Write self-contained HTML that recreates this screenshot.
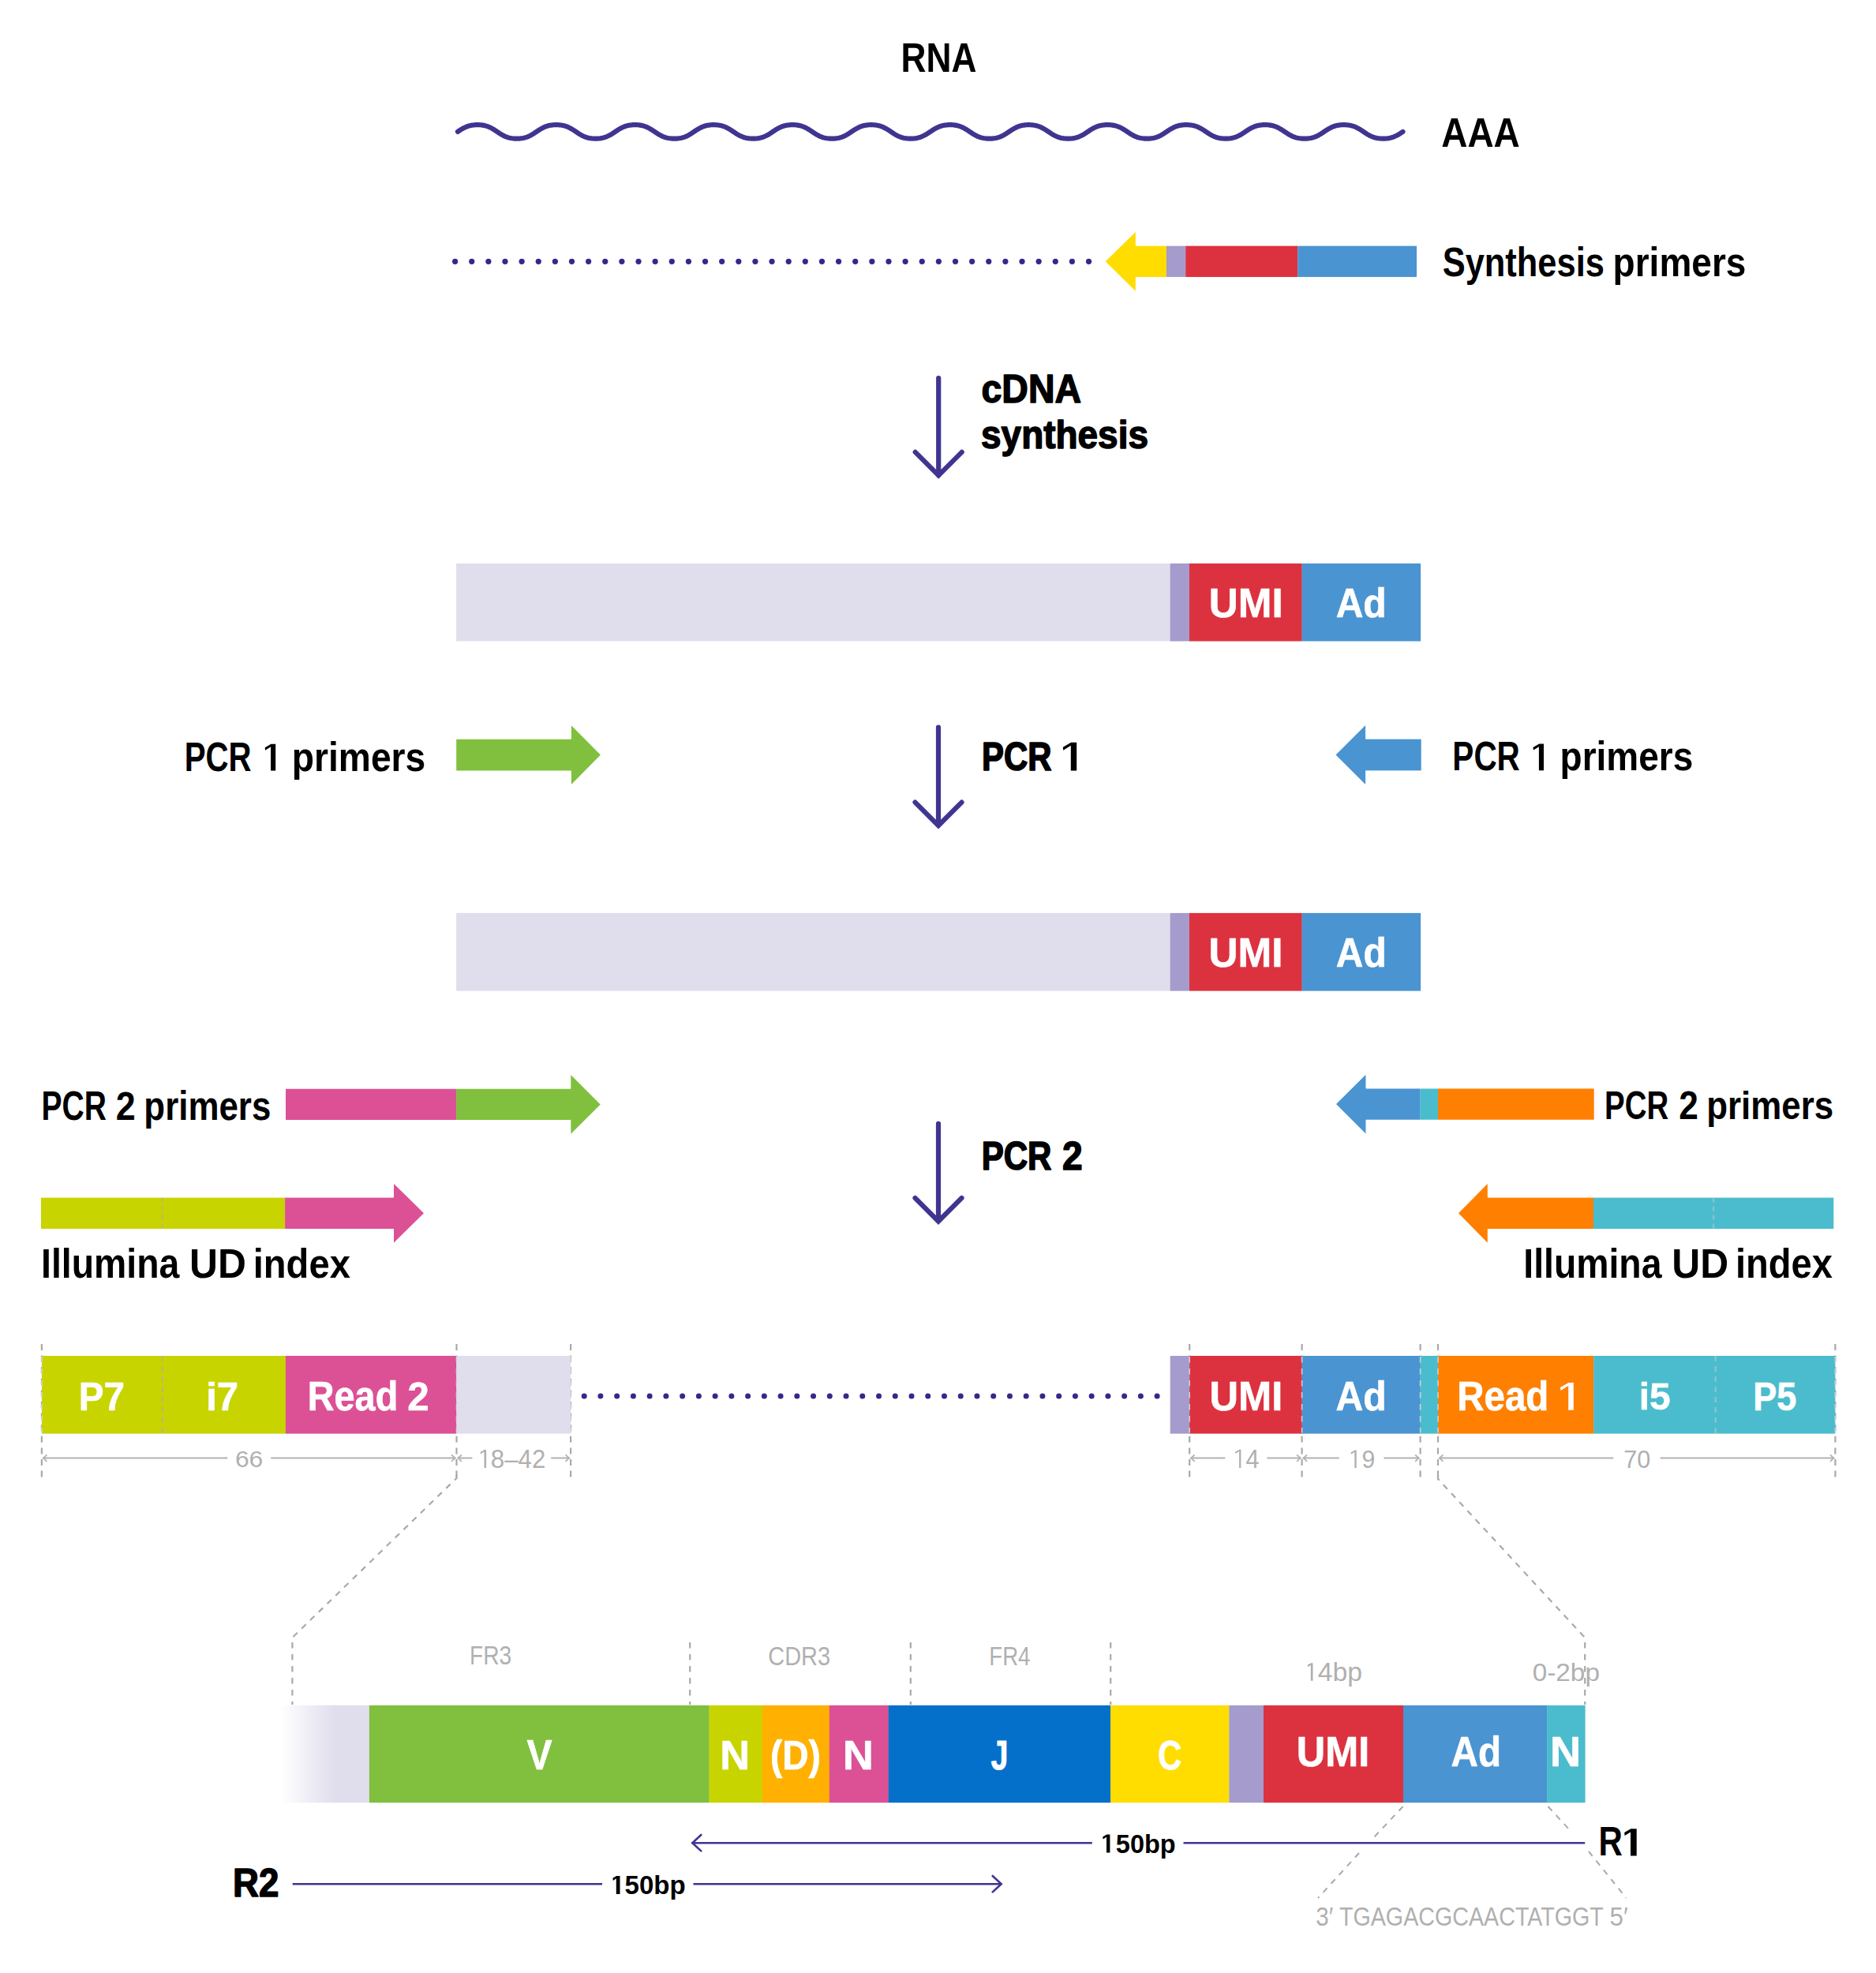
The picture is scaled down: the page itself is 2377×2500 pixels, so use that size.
<!DOCTYPE html>
<html><head><meta charset="utf-8"><title>TCR/BCR library structure</title>
<style>html,body{margin:0;padding:0;background:#fff}svg{display:block}text{font-family:"Liberation Sans",sans-serif;font-size:100px}</style>
</head><body>
<svg width="2377" height="2500" viewBox="0 0 2377 2500">
<rect width="2377" height="2500" fill="#ffffff"/>
<polyline points="580.0,166.90 581.5,165.90 583.0,164.92 584.5,163.98 586.0,163.08 587.5,162.25 589.0,161.50 590.5,160.82 592.0,160.23 593.5,159.72 595.0,159.30 596.5,158.95 598.0,158.67 599.5,158.46 601.0,158.31 602.5,158.21 604.0,158.16 605.5,158.15 607.0,158.19 608.5,158.28 610.0,158.42 611.5,158.61 613.0,158.87 614.5,159.20 616.0,159.61 617.5,160.09 619.0,160.67 620.5,161.32 622.0,162.06 623.5,162.87 625.0,163.75 626.5,164.68 628.0,165.65 629.5,166.65 631.0,167.65 632.5,168.64 634.0,169.59 635.5,170.50 637.0,171.35 638.5,172.12 640.0,172.82 641.5,173.43 643.0,173.96 644.5,174.40 646.0,174.77 647.5,175.06 649.0,175.29 650.5,175.46 652.0,175.57 653.5,175.63 655.0,175.65 656.5,175.62 658.0,175.55 659.5,175.42 661.0,175.24 662.5,175.00 664.0,174.69 665.5,174.30 667.0,173.84 668.5,173.29 670.0,172.65 671.5,171.93 673.0,171.14 674.5,170.28 676.0,169.36 677.5,168.39 679.0,167.40 680.5,166.40 682.0,165.41 683.5,164.44 685.0,163.52 686.5,162.66 688.0,161.87 689.5,161.15 691.0,160.51 692.5,159.96 694.0,159.50 695.5,159.11 697.0,158.80 698.5,158.56 700.1,158.38 701.6,158.25 703.1,158.18 704.6,158.15 706.1,158.17 707.6,158.23 709.1,158.34 710.6,158.51 712.1,158.74 713.6,159.03 715.1,159.40 716.6,159.84 718.1,160.37 719.6,160.98 721.1,161.68 722.6,162.45 724.1,163.30 725.6,164.21 727.1,165.16 728.6,166.15 730.1,167.15 731.6,168.15 733.1,169.12 734.6,170.05 736.1,170.93 737.6,171.74 739.1,172.48 740.6,173.13 742.1,173.71 743.6,174.19 745.1,174.60 746.6,174.93 748.1,175.19 749.6,175.38 751.1,175.52 752.6,175.61 754.1,175.65 755.6,175.64 757.1,175.59 758.6,175.49 760.1,175.34 761.6,175.13 763.1,174.85 764.6,174.50 766.1,174.08 767.6,173.57 769.1,172.98 770.6,172.30 772.1,171.55 773.6,170.72 775.1,169.82 776.6,168.88 778.1,167.90 779.6,166.90 781.1,165.90 782.6,164.92 784.1,163.98 785.6,163.08 787.1,162.25 788.6,161.50 790.1,160.82 791.6,160.23 793.1,159.72 794.6,159.30 796.1,158.95 797.6,158.67 799.1,158.46 800.6,158.31 802.1,158.21 803.6,158.16 805.1,158.15 806.6,158.19 808.1,158.28 809.6,158.42 811.1,158.61 812.6,158.87 814.1,159.20 815.6,159.61 817.1,160.09 818.6,160.67 820.1,161.32 821.6,162.06 823.1,162.87 824.6,163.75 826.1,164.68 827.6,165.65 829.1,166.65 830.6,167.65 832.1,168.64 833.6,169.59 835.1,170.50 836.6,171.35 838.1,172.12 839.6,172.82 841.1,173.43 842.6,173.96 844.1,174.40 845.6,174.77 847.1,175.06 848.6,175.29 850.1,175.46 851.6,175.57 853.1,175.63 854.6,175.65 856.1,175.62 857.6,175.55 859.1,175.42 860.6,175.24 862.1,175.00 863.6,174.69 865.1,174.30 866.6,173.84 868.1,173.29 869.6,172.65 871.1,171.93 872.6,171.14 874.1,170.28 875.6,169.36 877.1,168.39 878.6,167.40 880.1,166.40 881.6,165.41 883.1,164.44 884.6,163.52 886.1,162.66 887.6,161.87 889.1,161.15 890.6,160.51 892.1,159.96 893.6,159.50 895.1,159.11 896.6,158.80 898.1,158.56 899.6,158.38 901.1,158.25 902.6,158.18 904.1,158.15 905.6,158.17 907.1,158.23 908.6,158.34 910.1,158.51 911.6,158.74 913.1,159.03 914.6,159.40 916.1,159.84 917.6,160.37 919.1,160.98 920.6,161.68 922.1,162.45 923.6,163.30 925.1,164.21 926.6,165.16 928.1,166.15 929.6,167.15 931.1,168.15 932.6,169.12 934.1,170.05 935.6,170.93 937.1,171.74 938.6,172.48 940.2,173.13 941.7,173.71 943.2,174.19 944.7,174.60 946.2,174.93 947.7,175.19 949.2,175.38 950.7,175.52 952.2,175.61 953.7,175.65 955.2,175.64 956.7,175.59 958.2,175.49 959.7,175.34 961.2,175.13 962.7,174.85 964.2,174.50 965.7,174.08 967.2,173.57 968.7,172.98 970.2,172.30 971.7,171.55 973.2,170.72 974.7,169.82 976.2,168.88 977.7,167.90 979.2,166.90 980.7,165.90 982.2,164.92 983.7,163.98 985.2,163.08 986.7,162.25 988.2,161.50 989.7,160.82 991.2,160.23 992.7,159.72 994.2,159.30 995.7,158.95 997.2,158.67 998.7,158.46 1000.2,158.31 1001.7,158.21 1003.2,158.16 1004.7,158.15 1006.2,158.19 1007.7,158.28 1009.2,158.42 1010.7,158.61 1012.2,158.87 1013.7,159.20 1015.2,159.61 1016.7,160.09 1018.2,160.67 1019.7,161.32 1021.2,162.06 1022.7,162.87 1024.2,163.75 1025.7,164.68 1027.2,165.65 1028.7,166.65 1030.2,167.65 1031.7,168.64 1033.2,169.59 1034.7,170.50 1036.2,171.35 1037.7,172.12 1039.2,172.82 1040.7,173.43 1042.2,173.96 1043.7,174.40 1045.2,174.77 1046.7,175.06 1048.2,175.29 1049.7,175.46 1051.2,175.57 1052.7,175.63 1054.2,175.65 1055.7,175.62 1057.2,175.55 1058.7,175.42 1060.2,175.24 1061.7,175.00 1063.2,174.69 1064.7,174.30 1066.2,173.84 1067.7,173.29 1069.2,172.65 1070.7,171.93 1072.2,171.14 1073.7,170.28 1075.2,169.36 1076.7,168.39 1078.2,167.40 1079.7,166.40 1081.2,165.41 1082.7,164.44 1084.2,163.52 1085.7,162.66 1087.2,161.87 1088.7,161.15 1090.2,160.51 1091.7,159.96 1093.2,159.50 1094.7,159.11 1096.2,158.80 1097.7,158.56 1099.2,158.38 1100.7,158.25 1102.2,158.18 1103.7,158.15 1105.2,158.17 1106.7,158.23 1108.2,158.34 1109.7,158.51 1111.2,158.74 1112.7,159.03 1114.2,159.40 1115.7,159.84 1117.2,160.37 1118.7,160.98 1120.2,161.68 1121.7,162.45 1123.2,163.30 1124.7,164.21 1126.2,165.16 1127.7,166.15 1129.2,167.15 1130.7,168.15 1132.2,169.12 1133.7,170.05 1135.2,170.93 1136.7,171.74 1138.2,172.48 1139.7,173.13 1141.2,173.71 1142.7,174.19 1144.2,174.60 1145.7,174.93 1147.2,175.19 1148.7,175.38 1150.2,175.52 1151.7,175.61 1153.2,175.65 1154.7,175.64 1156.2,175.59 1157.7,175.49 1159.2,175.34 1160.7,175.13 1162.2,174.85 1163.7,174.50 1165.2,174.08 1166.7,173.57 1168.2,172.98 1169.7,172.30 1171.2,171.55 1172.7,170.72 1174.2,169.82 1175.7,168.88 1177.2,167.90 1178.8,166.90 1180.3,165.90 1181.8,164.92 1183.3,163.98 1184.8,163.08 1186.3,162.25 1187.8,161.50 1189.3,160.82 1190.8,160.23 1192.3,159.72 1193.8,159.30 1195.3,158.95 1196.8,158.67 1198.3,158.46 1199.8,158.31 1201.3,158.21 1202.8,158.16 1204.3,158.15 1205.8,158.19 1207.3,158.28 1208.8,158.42 1210.3,158.61 1211.8,158.87 1213.3,159.20 1214.8,159.61 1216.3,160.09 1217.8,160.67 1219.3,161.32 1220.8,162.06 1222.3,162.87 1223.8,163.75 1225.3,164.68 1226.8,165.65 1228.3,166.65 1229.8,167.65 1231.3,168.64 1232.8,169.59 1234.3,170.50 1235.8,171.35 1237.3,172.12 1238.8,172.82 1240.3,173.43 1241.8,173.96 1243.3,174.40 1244.8,174.77 1246.3,175.06 1247.8,175.29 1249.3,175.46 1250.8,175.57 1252.3,175.63 1253.8,175.65 1255.3,175.62 1256.8,175.55 1258.3,175.42 1259.8,175.24 1261.3,175.00 1262.8,174.69 1264.3,174.30 1265.8,173.84 1267.3,173.29 1268.8,172.65 1270.3,171.93 1271.8,171.14 1273.3,170.28 1274.8,169.36 1276.3,168.39 1277.8,167.40 1279.3,166.40 1280.8,165.41 1282.3,164.44 1283.8,163.52 1285.3,162.66 1286.8,161.87 1288.3,161.15 1289.8,160.51 1291.3,159.96 1292.8,159.50 1294.3,159.11 1295.8,158.80 1297.3,158.56 1298.8,158.38 1300.3,158.25 1301.8,158.18 1303.3,158.15 1304.8,158.17 1306.3,158.23 1307.8,158.34 1309.3,158.51 1310.8,158.74 1312.3,159.03 1313.8,159.40 1315.3,159.84 1316.8,160.37 1318.3,160.98 1319.8,161.68 1321.3,162.45 1322.8,163.30 1324.3,164.21 1325.8,165.16 1327.3,166.15 1328.8,167.15 1330.3,168.15 1331.8,169.12 1333.3,170.05 1334.8,170.93 1336.3,171.74 1337.8,172.48 1339.3,173.13 1340.8,173.71 1342.3,174.19 1343.8,174.60 1345.3,174.93 1346.8,175.19 1348.3,175.38 1349.8,175.52 1351.3,175.61 1352.8,175.65 1354.3,175.64 1355.8,175.59 1357.3,175.49 1358.8,175.34 1360.3,175.13 1361.8,174.85 1363.3,174.50 1364.8,174.08 1366.3,173.57 1367.8,172.98 1369.3,172.30 1370.8,171.55 1372.3,170.72 1373.8,169.82 1375.3,168.88 1376.8,167.90 1378.3,166.90 1379.8,165.90 1381.3,164.92 1382.8,163.98 1384.3,163.08 1385.8,162.25 1387.3,161.50 1388.8,160.82 1390.3,160.23 1391.8,159.72 1393.3,159.30 1394.8,158.95 1396.3,158.67 1397.8,158.46 1399.3,158.31 1400.8,158.21 1402.3,158.16 1403.8,158.15 1405.3,158.19 1406.8,158.28 1408.3,158.42 1409.8,158.61 1411.3,158.87 1412.8,159.20 1414.3,159.61 1415.8,160.09 1417.3,160.67 1418.9,161.32 1420.4,162.06 1421.9,162.87 1423.4,163.75 1424.9,164.68 1426.4,165.65 1427.9,166.65 1429.4,167.65 1430.9,168.64 1432.4,169.59 1433.9,170.50 1435.4,171.35 1436.9,172.12 1438.4,172.82 1439.9,173.43 1441.4,173.96 1442.9,174.40 1444.4,174.77 1445.9,175.06 1447.4,175.29 1448.9,175.46 1450.4,175.57 1451.9,175.63 1453.4,175.65 1454.9,175.62 1456.4,175.55 1457.9,175.42 1459.4,175.24 1460.9,175.00 1462.4,174.69 1463.9,174.30 1465.4,173.84 1466.9,173.29 1468.4,172.65 1469.9,171.93 1471.4,171.14 1472.9,170.28 1474.4,169.36 1475.9,168.39 1477.4,167.40 1478.9,166.40 1480.4,165.41 1481.9,164.44 1483.4,163.52 1484.9,162.66 1486.4,161.87 1487.9,161.15 1489.4,160.51 1490.9,159.96 1492.4,159.50 1493.9,159.11 1495.4,158.80 1496.9,158.56 1498.4,158.38 1499.9,158.25 1501.4,158.18 1502.9,158.15 1504.4,158.17 1505.9,158.23 1507.4,158.34 1508.9,158.51 1510.4,158.74 1511.9,159.03 1513.4,159.40 1514.9,159.84 1516.4,160.37 1517.9,160.98 1519.4,161.68 1520.9,162.45 1522.4,163.30 1523.9,164.21 1525.4,165.16 1526.9,166.15 1528.4,167.15 1529.9,168.15 1531.4,169.12 1532.9,170.05 1534.4,170.93 1535.9,171.74 1537.4,172.48 1538.9,173.13 1540.4,173.71 1541.9,174.19 1543.4,174.60 1544.9,174.93 1546.4,175.19 1547.9,175.38 1549.4,175.52 1550.9,175.61 1552.4,175.65 1553.9,175.64 1555.4,175.59 1556.9,175.49 1558.4,175.34 1559.9,175.13 1561.4,174.85 1562.9,174.50 1564.4,174.08 1565.9,173.57 1567.4,172.98 1568.9,172.30 1570.4,171.55 1571.9,170.72 1573.4,169.82 1574.9,168.88 1576.4,167.90 1577.9,166.90 1579.4,165.90 1580.9,164.92 1582.4,163.98 1583.9,163.08 1585.4,162.25 1586.9,161.50 1588.4,160.82 1589.9,160.23 1591.4,159.72 1592.9,159.30 1594.4,158.95 1595.9,158.67 1597.4,158.46 1598.9,158.31 1600.4,158.21 1601.9,158.16 1603.4,158.15 1604.9,158.19 1606.4,158.28 1607.9,158.42 1609.4,158.61 1610.9,158.87 1612.4,159.20 1613.9,159.61 1615.4,160.09 1616.9,160.67 1618.4,161.32 1619.9,162.06 1621.4,162.87 1622.9,163.75 1624.4,164.68 1625.9,165.65 1627.4,166.65 1628.9,167.65 1630.4,168.64 1631.9,169.59 1633.4,170.50 1634.9,171.35 1636.4,172.12 1637.9,172.82 1639.4,173.43 1640.9,173.96 1642.4,174.40 1643.9,174.77 1645.4,175.06 1646.9,175.29 1648.4,175.46 1649.9,175.57 1651.4,175.63 1652.9,175.65 1654.4,175.62 1655.9,175.55 1657.4,175.42 1659.0,175.24 1660.5,175.00 1662.0,174.69 1663.5,174.30 1665.0,173.84 1666.5,173.29 1668.0,172.65 1669.5,171.93 1671.0,171.14 1672.5,170.28 1674.0,169.36 1675.5,168.39 1677.0,167.40 1678.5,166.40 1680.0,165.41 1681.5,164.44 1683.0,163.52 1684.5,162.66 1686.0,161.87 1687.5,161.15 1689.0,160.51 1690.5,159.96 1692.0,159.50 1693.5,159.11 1695.0,158.80 1696.5,158.56 1698.0,158.38 1699.5,158.25 1701.0,158.18 1702.5,158.15 1704.0,158.17 1705.5,158.23 1707.0,158.34 1708.5,158.51 1710.0,158.74 1711.5,159.03 1713.0,159.40 1714.5,159.84 1716.0,160.37 1717.5,160.98 1719.0,161.68 1720.5,162.45 1722.0,163.30 1723.5,164.21 1725.0,165.16 1726.5,166.15 1728.0,167.15 1729.5,168.15 1731.0,169.12 1732.5,170.05 1734.0,170.93 1735.5,171.74 1737.0,172.48 1738.5,173.13 1740.0,173.71 1741.5,174.19 1743.0,174.60 1744.5,174.93 1746.0,175.19 1747.5,175.38 1749.0,175.52 1750.5,175.61 1752.0,175.65 1753.5,175.64 1755.0,175.59 1756.5,175.49 1758.0,175.34 1759.5,175.13 1761.0,174.85 1762.5,174.50 1764.0,174.08 1765.5,173.57 1767.0,172.98 1768.5,172.30 1770.0,171.55 1771.5,170.72 1773.0,169.82 1774.5,168.88 1776.0,167.90 1777.5,166.90" fill="none" stroke="#3f3590" stroke-width="6.2" stroke-linecap="round" stroke-linejoin="round"/>
<circle cx="576.60" cy="331.3" r="3.6" fill="#33298a"/>
<circle cx="597.73" cy="331.3" r="3.6" fill="#33298a"/>
<circle cx="618.86" cy="331.3" r="3.6" fill="#33298a"/>
<circle cx="639.99" cy="331.3" r="3.6" fill="#33298a"/>
<circle cx="661.12" cy="331.3" r="3.6" fill="#33298a"/>
<circle cx="682.25" cy="331.3" r="3.6" fill="#33298a"/>
<circle cx="703.38" cy="331.3" r="3.6" fill="#33298a"/>
<circle cx="724.51" cy="331.3" r="3.6" fill="#33298a"/>
<circle cx="745.64" cy="331.3" r="3.6" fill="#33298a"/>
<circle cx="766.77" cy="331.3" r="3.6" fill="#33298a"/>
<circle cx="787.90" cy="331.3" r="3.6" fill="#33298a"/>
<circle cx="809.03" cy="331.3" r="3.6" fill="#33298a"/>
<circle cx="830.16" cy="331.3" r="3.6" fill="#33298a"/>
<circle cx="851.29" cy="331.3" r="3.6" fill="#33298a"/>
<circle cx="872.42" cy="331.3" r="3.6" fill="#33298a"/>
<circle cx="893.55" cy="331.3" r="3.6" fill="#33298a"/>
<circle cx="914.68" cy="331.3" r="3.6" fill="#33298a"/>
<circle cx="935.81" cy="331.3" r="3.6" fill="#33298a"/>
<circle cx="956.94" cy="331.3" r="3.6" fill="#33298a"/>
<circle cx="978.07" cy="331.3" r="3.6" fill="#33298a"/>
<circle cx="999.20" cy="331.3" r="3.6" fill="#33298a"/>
<circle cx="1020.33" cy="331.3" r="3.6" fill="#33298a"/>
<circle cx="1041.46" cy="331.3" r="3.6" fill="#33298a"/>
<circle cx="1062.59" cy="331.3" r="3.6" fill="#33298a"/>
<circle cx="1083.72" cy="331.3" r="3.6" fill="#33298a"/>
<circle cx="1104.85" cy="331.3" r="3.6" fill="#33298a"/>
<circle cx="1125.98" cy="331.3" r="3.6" fill="#33298a"/>
<circle cx="1147.11" cy="331.3" r="3.6" fill="#33298a"/>
<circle cx="1168.24" cy="331.3" r="3.6" fill="#33298a"/>
<circle cx="1189.37" cy="331.3" r="3.6" fill="#33298a"/>
<circle cx="1210.50" cy="331.3" r="3.6" fill="#33298a"/>
<circle cx="1231.63" cy="331.3" r="3.6" fill="#33298a"/>
<circle cx="1252.76" cy="331.3" r="3.6" fill="#33298a"/>
<circle cx="1273.89" cy="331.3" r="3.6" fill="#33298a"/>
<circle cx="1295.02" cy="331.3" r="3.6" fill="#33298a"/>
<circle cx="1316.15" cy="331.3" r="3.6" fill="#33298a"/>
<circle cx="1337.28" cy="331.3" r="3.6" fill="#33298a"/>
<circle cx="1358.41" cy="331.3" r="3.6" fill="#33298a"/>
<circle cx="1379.54" cy="331.3" r="3.6" fill="#33298a"/>
<polygon points="1400.70,331.30 1438.80,293.90 1438.80,311.65 1439.40,311.65 1439.40,350.95 1438.80,350.95 1438.80,368.70" fill="#ffdd00"/>
<rect x="1438.50" y="311.65" width="39.50" height="39.30" fill="#ffdd00"/>
<rect x="1477.90" y="311.65" width="24.30" height="39.30" fill="#a59bcc"/>
<rect x="1502.20" y="311.65" width="142.00" height="39.30" fill="#dc3240"/>
<rect x="1644.20" y="311.65" width="150.80" height="39.30" fill="#4a94d2"/>
<path d="M1189.20,479.10 L1189.20,602.40 M1159.70,572.90 L1189.20,602.40 L1218.70,572.90" fill="none" stroke="#3f3590" stroke-width="6.2" stroke-linecap="round" stroke-linejoin="miter"/>
<path d="M1189.00,921.70 L1189.00,1046.10 M1159.50,1016.60 L1189.00,1046.10 L1218.50,1016.60" fill="none" stroke="#3f3590" stroke-width="6.2" stroke-linecap="round" stroke-linejoin="miter"/>
<path d="M1189.00,1423.90 L1189.00,1547.50 M1159.50,1518.00 L1189.00,1547.50 L1218.50,1518.00" fill="none" stroke="#3f3590" stroke-width="6.2" stroke-linecap="round" stroke-linejoin="miter"/>
<rect x="578.10" y="714.00" width="904.70" height="98.50" fill="#e0deed"/>
<rect x="1482.60" y="714.00" width="24.60" height="98.50" fill="#a59bcc"/>
<rect x="1507.00" y="714.00" width="142.80" height="98.50" fill="#dc3240"/>
<rect x="1649.60" y="714.00" width="150.50" height="98.50" fill="#4a94d2"/>
<rect x="578.10" y="1156.90" width="904.70" height="98.70" fill="#e0deed"/>
<rect x="1482.60" y="1156.90" width="24.60" height="98.70" fill="#a59bcc"/>
<rect x="1507.00" y="1156.90" width="142.80" height="98.70" fill="#dc3240"/>
<rect x="1649.60" y="1156.90" width="150.50" height="98.70" fill="#4a94d2"/>
<rect x="578.20" y="936.75" width="146.00" height="39.70" fill="#80c03e"/>
<polygon points="760.90,956.60 723.90,919.15 723.90,936.75 723.30,936.75 723.30,976.45 723.90,976.45 723.90,994.05" fill="#80c03e"/>
<polygon points="1692.50,956.50 1730.10,919.05 1730.10,936.65 1730.70,936.65 1730.70,976.35 1730.10,976.35 1730.10,993.95" fill="#4a94d2"/>
<rect x="1729.80" y="936.65" width="70.90" height="39.70" fill="#4a94d2"/>
<rect x="362.00" y="1379.75" width="216.30" height="39.30" fill="#dc5096"/>
<rect x="578.10" y="1379.75" width="145.50" height="39.30" fill="#80c03e"/>
<polygon points="760.70,1399.40 723.30,1362.00 723.30,1379.75 722.70,1379.75 722.70,1419.05 723.30,1419.05 723.30,1436.80" fill="#80c03e"/>
<polygon points="1693.00,1399.10 1730.50,1361.70 1730.50,1379.45 1731.10,1379.45 1731.10,1418.75 1730.50,1418.75 1730.50,1436.50" fill="#4a94d2"/>
<rect x="1730.20" y="1379.45" width="69.40" height="39.30" fill="#4a94d2"/>
<rect x="1799.40" y="1379.45" width="22.80" height="39.30" fill="#4bbccd"/>
<rect x="1822.00" y="1379.45" width="197.70" height="39.30" fill="#ff7f00"/>
<rect x="52.00" y="1517.60" width="309.30" height="39.40" fill="#c8d400"/>
<rect x="361.10" y="1517.60" width="138.20" height="39.40" fill="#dc5096"/>
<polygon points="537.00,1537.30 499.00,1499.90 499.00,1517.60 498.40,1517.60 498.40,1557.00 499.00,1557.00 499.00,1574.70" fill="#dc5096"/>
<polygon points="1848.00,1537.30 1884.80,1499.90 1884.80,1517.60 1885.40,1517.60 1885.40,1557.00 1884.80,1557.00 1884.80,1574.70" fill="#ff7f00"/>
<rect x="1884.50" y="1517.60" width="134.60" height="39.40" fill="#ff7f00"/>
<rect x="2018.90" y="1517.60" width="304.40" height="39.40" fill="#4bbccd"/>
<line x1="205.8" y1="1517.6" x2="205.8" y2="1557.0" stroke="#b8b48a" stroke-width="2" stroke-dasharray="6 5" opacity="0.8"/>
<line x1="2171.1" y1="1517.6" x2="2171.1" y2="1557.0" stroke="#9fc6cc" stroke-width="2" stroke-dasharray="6 5" opacity="0.8"/>
<line x1="52.9" y1="1700" x2="52.9" y2="1872" stroke="#a9a9ad" stroke-width="2.2" stroke-dasharray="8 6.6" stroke-dashoffset="-3"/>
<line x1="578.5" y1="1700" x2="578.5" y2="1872" stroke="#a9a9ad" stroke-width="2.2" stroke-dasharray="8 6.6" stroke-dashoffset="-3"/>
<line x1="723.1" y1="1700" x2="723.1" y2="1872" stroke="#a9a9ad" stroke-width="2.2" stroke-dasharray="8 6.6" stroke-dashoffset="-3"/>
<line x1="1507.2" y1="1700" x2="1507.2" y2="1872" stroke="#a9a9ad" stroke-width="2.2" stroke-dasharray="8 6.6" stroke-dashoffset="-3"/>
<line x1="1649.6" y1="1700" x2="1649.6" y2="1872" stroke="#a9a9ad" stroke-width="2.2" stroke-dasharray="8 6.6" stroke-dashoffset="-3"/>
<line x1="1799.6" y1="1700" x2="1799.6" y2="1872" stroke="#a9a9ad" stroke-width="2.2" stroke-dasharray="8 6.6" stroke-dashoffset="-3"/>
<line x1="1822.0" y1="1700" x2="1822.0" y2="1872" stroke="#a9a9ad" stroke-width="2.2" stroke-dasharray="8 6.6" stroke-dashoffset="-3"/>
<line x1="2325.4" y1="1700" x2="2325.4" y2="1872" stroke="#a9a9ad" stroke-width="2.2" stroke-dasharray="8 6.6" stroke-dashoffset="-3"/>
<rect x="52.90" y="1718.00" width="309.20" height="98.60" fill="#c8d400"/>
<rect x="361.90" y="1718.00" width="216.60" height="98.60" fill="#dc5096"/>
<rect x="578.30" y="1718.00" width="144.80" height="98.60" fill="#e0deed"/>
<circle cx="740.20" cy="1768.9" r="3.5" fill="#33298a"/>
<circle cx="760.94" cy="1768.9" r="3.5" fill="#33298a"/>
<circle cx="781.68" cy="1768.9" r="3.5" fill="#33298a"/>
<circle cx="802.42" cy="1768.9" r="3.5" fill="#33298a"/>
<circle cx="823.16" cy="1768.9" r="3.5" fill="#33298a"/>
<circle cx="843.90" cy="1768.9" r="3.5" fill="#33298a"/>
<circle cx="864.64" cy="1768.9" r="3.5" fill="#33298a"/>
<circle cx="885.38" cy="1768.9" r="3.5" fill="#33298a"/>
<circle cx="906.12" cy="1768.9" r="3.5" fill="#33298a"/>
<circle cx="926.86" cy="1768.9" r="3.5" fill="#33298a"/>
<circle cx="947.60" cy="1768.9" r="3.5" fill="#33298a"/>
<circle cx="968.34" cy="1768.9" r="3.5" fill="#33298a"/>
<circle cx="989.08" cy="1768.9" r="3.5" fill="#33298a"/>
<circle cx="1009.82" cy="1768.9" r="3.5" fill="#33298a"/>
<circle cx="1030.56" cy="1768.9" r="3.5" fill="#33298a"/>
<circle cx="1051.30" cy="1768.9" r="3.5" fill="#33298a"/>
<circle cx="1072.04" cy="1768.9" r="3.5" fill="#33298a"/>
<circle cx="1092.78" cy="1768.9" r="3.5" fill="#33298a"/>
<circle cx="1113.52" cy="1768.9" r="3.5" fill="#33298a"/>
<circle cx="1134.26" cy="1768.9" r="3.5" fill="#33298a"/>
<circle cx="1155.00" cy="1768.9" r="3.5" fill="#33298a"/>
<circle cx="1175.74" cy="1768.9" r="3.5" fill="#33298a"/>
<circle cx="1196.48" cy="1768.9" r="3.5" fill="#33298a"/>
<circle cx="1217.22" cy="1768.9" r="3.5" fill="#33298a"/>
<circle cx="1237.96" cy="1768.9" r="3.5" fill="#33298a"/>
<circle cx="1258.70" cy="1768.9" r="3.5" fill="#33298a"/>
<circle cx="1279.44" cy="1768.9" r="3.5" fill="#33298a"/>
<circle cx="1300.18" cy="1768.9" r="3.5" fill="#33298a"/>
<circle cx="1320.92" cy="1768.9" r="3.5" fill="#33298a"/>
<circle cx="1341.66" cy="1768.9" r="3.5" fill="#33298a"/>
<circle cx="1362.40" cy="1768.9" r="3.5" fill="#33298a"/>
<circle cx="1383.14" cy="1768.9" r="3.5" fill="#33298a"/>
<circle cx="1403.88" cy="1768.9" r="3.5" fill="#33298a"/>
<circle cx="1424.62" cy="1768.9" r="3.5" fill="#33298a"/>
<circle cx="1445.36" cy="1768.9" r="3.5" fill="#33298a"/>
<circle cx="1466.10" cy="1768.9" r="3.5" fill="#33298a"/>
<rect x="1482.70" y="1718.00" width="24.70" height="98.60" fill="#a59bcc"/>
<rect x="1507.20" y="1718.00" width="142.60" height="98.60" fill="#dc3240"/>
<rect x="1649.60" y="1718.00" width="150.20" height="98.60" fill="#4a94d2"/>
<rect x="1799.60" y="1718.00" width="22.60" height="98.60" fill="#4bbccd"/>
<rect x="1822.00" y="1718.00" width="197.40" height="98.60" fill="#ff7f00"/>
<rect x="2019.20" y="1718.00" width="306.20" height="98.60" fill="#4bbccd"/>
<line x1="205.9" y1="1718.0" x2="205.9" y2="1816.6" stroke="#b8b48a" stroke-width="2.2" stroke-dasharray="7 6" opacity="0.8"/>
<line x1="2173.7" y1="1718.0" x2="2173.7" y2="1816.6" stroke="#9fc6cc" stroke-width="2.2" stroke-dasharray="7 6" opacity="0.8"/>
<line x1="52.9" y1="1719.0" x2="52.9" y2="1815.6" stroke="#d6d6dc" stroke-width="1.6" stroke-dasharray="7.5 7.5" opacity="0.9"/>
<line x1="578.5" y1="1719.0" x2="578.5" y2="1815.6" stroke="#d6d6dc" stroke-width="1.6" stroke-dasharray="7.5 7.5" opacity="0.9"/>
<line x1="723.1" y1="1719.0" x2="723.1" y2="1815.6" stroke="#d6d6dc" stroke-width="1.6" stroke-dasharray="7.5 7.5" opacity="0.9"/>
<line x1="1507.2" y1="1719.0" x2="1507.2" y2="1815.6" stroke="#d6d6dc" stroke-width="1.6" stroke-dasharray="7.5 7.5" opacity="0.9"/>
<line x1="1649.6" y1="1719.0" x2="1649.6" y2="1815.6" stroke="#d6d6dc" stroke-width="1.6" stroke-dasharray="7.5 7.5" opacity="0.9"/>
<line x1="1799.6" y1="1719.0" x2="1799.6" y2="1815.6" stroke="#d6d6dc" stroke-width="1.6" stroke-dasharray="7.5 7.5" opacity="0.9"/>
<line x1="1822.0" y1="1719.0" x2="1822.0" y2="1815.6" stroke="#d6d6dc" stroke-width="1.6" stroke-dasharray="7.5 7.5" opacity="0.9"/>
<line x1="2325.4" y1="1719.0" x2="2325.4" y2="1815.6" stroke="#d6d6dc" stroke-width="1.6" stroke-dasharray="7.5 7.5" opacity="0.9"/>
<path d="M53.9,1847.6 L288.3,1847.6 M343.2,1847.6 L577.5,1847.6" stroke="#b2b2b2" stroke-width="2" fill="none"/>
<path d="M59.4,1843.3 L54.9,1847.6 L59.4,1851.9 M572.0,1843.3 L576.5,1847.6 L572.0,1851.9" stroke="#b2b2b2" stroke-width="1.8" fill="none"/>
<path d="M579.5,1847.6 L598.4,1847.6 M698.2,1847.6 L722.1,1847.6" stroke="#b2b2b2" stroke-width="2" fill="none"/>
<path d="M585.0,1843.3 L580.5,1847.6 L585.0,1851.9 M716.6,1843.3 L721.1,1847.6 L716.6,1851.9" stroke="#b2b2b2" stroke-width="1.8" fill="none"/>
<path d="M1508.2,1847.6 L1552.4,1847.6 M1605.4,1847.6 L1648.6,1847.6" stroke="#b2b2b2" stroke-width="2" fill="none"/>
<path d="M1513.7,1843.3 L1509.2,1847.6 L1513.7,1851.9 M1643.1,1843.3 L1647.6,1847.6 L1643.1,1851.9" stroke="#b2b2b2" stroke-width="1.8" fill="none"/>
<path d="M1650.6,1847.6 L1696.8,1847.6 M1753.5,1847.6 L1798.6,1847.6" stroke="#b2b2b2" stroke-width="2" fill="none"/>
<path d="M1656.1,1843.3 L1651.6,1847.6 L1656.1,1851.9 M1793.1,1843.3 L1797.6,1847.6 L1793.1,1851.9" stroke="#b2b2b2" stroke-width="1.8" fill="none"/>
<path d="M1823.0,1847.6 L2044.3,1847.6 M2103.7,1847.6 L2324.4,1847.6" stroke="#b2b2b2" stroke-width="2" fill="none"/>
<path d="M1828.5,1843.3 L1824.0,1847.6 L1828.5,1851.9 M2318.9,1843.3 L2323.4,1847.6 L2318.9,1851.9" stroke="#b2b2b2" stroke-width="1.8" fill="none"/>
<path d="M578.5,1869 L578.5,1873 L370.4,2075 L370.4,2160" stroke="#a9a9ad" stroke-width="2.2" fill="none" stroke-dasharray="7.5 7.5"/>
<path d="M1822,1869 L1822,1874 L2008.2,2075 L2008.2,2160" stroke="#a9a9ad" stroke-width="2.2" fill="none" stroke-dasharray="7.5 7.5"/>
<line x1="874.2" y1="2081" x2="874.2" y2="2160" stroke="#a9a9ad" stroke-width="2.2" stroke-dasharray="7.5 7.5"/>
<line x1="1153.8" y1="2081" x2="1153.8" y2="2160" stroke="#a9a9ad" stroke-width="2.2" stroke-dasharray="7.5 7.5"/>
<line x1="1407.2" y1="2081" x2="1407.2" y2="2160" stroke="#a9a9ad" stroke-width="2.2" stroke-dasharray="7.5 7.5"/>
<defs><linearGradient id="fade" x1="0" x2="1" y1="0" y2="0"><stop offset="0" stop-color="#e0deed" stop-opacity="0"/><stop offset="1" stop-color="#e0deed" stop-opacity="1"/></linearGradient></defs>
<rect x="355.00" y="2160.80" width="70.00" height="123.40" fill="url(#fade)"/>
<rect x="424.80" y="2160.80" width="43.30" height="123.40" fill="#e0deed"/>
<rect x="467.90" y="2160.80" width="430.90" height="123.40" fill="#80c03e"/>
<rect x="898.60" y="2160.80" width="67.40" height="123.40" fill="#c8d400"/>
<rect x="965.80" y="2160.80" width="85.20" height="123.40" fill="#ffb000"/>
<rect x="1050.80" y="2160.80" width="75.10" height="123.40" fill="#dc5096"/>
<rect x="1125.70" y="2160.80" width="281.50" height="123.40" fill="#0470c9"/>
<rect x="1407.00" y="2160.80" width="150.50" height="123.40" fill="#ffdd00"/>
<rect x="1557.30" y="2160.80" width="43.90" height="123.40" fill="#a59bcc"/>
<rect x="1601.00" y="2160.80" width="177.20" height="123.40" fill="#dc3240"/>
<rect x="1778.00" y="2160.80" width="182.30" height="123.40" fill="#4a94d2"/>
<rect x="1960.10" y="2160.80" width="48.50" height="123.40" fill="#4bbccd"/>
<path d="M876.5,2335.2 L1383.8,2335.2 M1499.5,2335.2 L2008.2,2335.2" stroke="#3f3590" stroke-width="2.6" fill="none"/>
<path d="M888.3,2325.0 L877.3,2335.2 L888.3,2345.4" stroke="#3f3590" stroke-width="2.6" fill="none" stroke-linecap="round"/>
<path d="M370.7,2387.2 L763,2387.2 M878.5,2387.2 L1269,2387.2" stroke="#3f3590" stroke-width="2.6" fill="none"/>
<path d="M1257.7,2377.0 L1268.7,2387.2 L1257.7,2397.4" stroke="#3f3590" stroke-width="2.6" fill="none" stroke-linecap="round"/>
<path d="M1777.6,2289 L1740,2329 M1722,2348 L1670,2405" stroke="#a9a9ad" stroke-width="2" fill="none" stroke-dasharray="7.5 7.5"/>
<path d="M1961.5,2289 L1990,2320 M2013,2346 L2060.6,2405" stroke="#a9a9ad" stroke-width="2" fill="none" stroke-dasharray="7.5 7.5"/>
<text transform="translate(1141.50 91.30) scale(0.4425 0.5261)" font-weight="bold" fill="#000000">RNA</text>
<text transform="translate(1826.22 186.20) scale(0.4597 0.5261)" font-weight="bold" fill="#000000">AAA</text>
<text transform="translate(1827.70 350.40) scale(0.4344 0.5101)" font-weight="bold" fill="#000000">Synthesis</text>
<text transform="translate(2043.58 350.40) scale(0.4604 0.5101)" font-weight="bold" fill="#000000">primers</text>
<text transform="translate(1243.54 509.90) scale(0.4645 0.4928)" font-weight="bold" fill="#000000" stroke="#000000" stroke-width="3.01" stroke-linejoin="round">cDNA</text>
<text transform="translate(1243.06 567.80) scale(0.4594 0.4928)" font-weight="bold" fill="#000000" stroke="#000000" stroke-width="3.05" stroke-linejoin="round">synthesis</text>
<text transform="translate(1531.72 782.40) scale(0.5129 0.5130)" font-weight="bold" fill="#ffffff" stroke="#ffffff" stroke-width="1.17" stroke-linejoin="round">UMI</text>
<text transform="translate(1692.66 782.40) scale(0.4806 0.5130)" font-weight="bold" fill="#ffffff" stroke="#ffffff" stroke-width="1.25" stroke-linejoin="round">Ad</text>
<text transform="translate(233.68 976.60) scale(0.4025 0.5101)" font-weight="bold" fill="#000000">PCR</text>
<text transform="translate(369.77 976.60) scale(0.4621 0.5101)" font-weight="bold" fill="#000000">primers</text>
<text transform="translate(1244.07 975.60) scale(0.4183 0.4913)" font-weight="bold" fill="#000000" stroke="#000000" stroke-width="3.35" stroke-linejoin="round">PCR</text>
<text transform="translate(1840.37 976.30) scale(0.4050 0.5116)" font-weight="bold" fill="#000000">PCR</text>
<text transform="translate(1976.58 976.30) scale(0.4601 0.5116)" font-weight="bold" fill="#000000">primers</text>
<text transform="translate(1531.52 1224.90) scale(0.5135 0.5130)" font-weight="bold" fill="#ffffff" stroke="#ffffff" stroke-width="1.17" stroke-linejoin="round">UMI</text>
<text transform="translate(1692.86 1224.90) scale(0.4790 0.5130)" font-weight="bold" fill="#ffffff" stroke="#ffffff" stroke-width="1.25" stroke-linejoin="round">Ad</text>
<text transform="translate(52.47 1418.60) scale(0.3906 0.5087)" font-weight="bold" fill="#000000">PCR</text>
<text transform="translate(146.65 1418.60) scale(0.4490 0.5087)" font-weight="bold" fill="#000000">2</text>
<text transform="translate(182.33 1418.60) scale(0.4388 0.5087)" font-weight="bold" fill="#000000">primers</text>
<text transform="translate(2033.11 1418.30) scale(0.3847 0.5087)" font-weight="bold" fill="#000000">PCR</text>
<text transform="translate(2127.27 1418.30) scale(0.4429 0.5087)" font-weight="bold" fill="#000000">2</text>
<text transform="translate(2162.13 1418.30) scale(0.4390 0.5087)" font-weight="bold" fill="#000000">primers</text>
<text transform="translate(1243.66 1481.80) scale(0.4203 0.4971)" font-weight="bold" fill="#000000" stroke="#000000" stroke-width="3.33" stroke-linejoin="round">PCR</text>
<text transform="translate(1345.92 1481.80) scale(0.4612 0.4971)" font-weight="bold" fill="#000000" stroke="#000000" stroke-width="3.04" stroke-linejoin="round">2</text>
<text transform="translate(52.05 1619.00) scale(0.4639 0.5246)" font-weight="bold" fill="#000000">Illumina</text>
<text transform="translate(240.01 1619.00) scale(0.4978 0.5246)" font-weight="bold" fill="#000000">UD</text>
<text transform="translate(320.70 1619.00) scale(0.4719 0.5246)" font-weight="bold" fill="#000000">index</text>
<text transform="translate(1930.25 1618.50) scale(0.4639 0.5246)" font-weight="bold" fill="#000000">Illumina</text>
<text transform="translate(2118.21 1618.50) scale(0.4978 0.5246)" font-weight="bold" fill="#000000">UD</text>
<text transform="translate(2198.90 1618.50) scale(0.4711 0.5246)" font-weight="bold" fill="#000000">index</text>
<text transform="translate(99.76 1786.50) scale(0.4766 0.5014)" font-weight="bold" fill="#ffffff" stroke="#ffffff" stroke-width="1.26" stroke-linejoin="round">P7</text>
<text transform="translate(261.16 1786.50) scale(0.4917 0.5014)" font-weight="bold" fill="#ffffff" stroke="#ffffff" stroke-width="1.22" stroke-linejoin="round">i7</text>
<text transform="translate(389.72 1786.50) scale(0.4684 0.5130)" font-weight="bold" fill="#ffffff" stroke="#ffffff" stroke-width="1.28" stroke-linejoin="round">Read</text>
<text transform="translate(516.32 1786.50) scale(0.4939 0.5014)" font-weight="bold" fill="#ffffff" stroke="#ffffff" stroke-width="1.21" stroke-linejoin="round">2</text>
<text transform="translate(1532.46 1786.70) scale(0.5070 0.5217)" font-weight="bold" fill="#ffffff" stroke="#ffffff" stroke-width="1.18" stroke-linejoin="round">UMI</text>
<text transform="translate(1692.46 1786.50) scale(0.4815 0.5130)" font-weight="bold" fill="#ffffff" stroke="#ffffff" stroke-width="1.25" stroke-linejoin="round">Ad</text>
<text transform="translate(1846.18 1786.50) scale(0.4749 0.5130)" font-weight="bold" fill="#ffffff" stroke="#ffffff" stroke-width="1.26" stroke-linejoin="round">Read</text>
<text transform="translate(2076.65 1786.30) scale(0.4784 0.4899)" font-weight="bold" fill="#ffffff" stroke="#ffffff" stroke-width="1.25" stroke-linejoin="round">i5</text>
<text transform="translate(2221.25 1786.50) scale(0.4496 0.5014)" font-weight="bold" fill="#ffffff" stroke="#ffffff" stroke-width="1.33" stroke-linejoin="round">P5</text>
<text transform="translate(297.91 1858.70) scale(0.3186 0.3014)" font-weight="normal" fill="#b0b0b0">66</text>
<text transform="translate(621.85 1859.90) scale(0.3127 0.3304)" font-weight="normal" fill="#b0b0b0">8–42</text>
<text transform="translate(1578.49 1860.00) scale(0.3059 0.3232)" font-weight="normal" fill="#b0b0b0">4</text>
<text transform="translate(1725.39 1859.80) scale(0.3022 0.3217)" font-weight="normal" fill="#b0b0b0">9</text>
<text transform="translate(2057.17 1859.50) scale(0.3059 0.3188)" font-weight="normal" fill="#b0b0b0">70</text>
<text transform="translate(595.05 2109.30) scale(0.2818 0.3246)" font-weight="normal" fill="#b0b0b0">FR3</text>
<text transform="translate(973.25 2109.60) scale(0.2894 0.3246)" font-weight="normal" fill="#b0b0b0">CDR3</text>
<text transform="translate(1253.29 2109.60) scale(0.2764 0.3246)" font-weight="normal" fill="#b0b0b0">FR4</text>
<text transform="translate(1669.72 2129.80) scale(0.3385 0.3275)" font-weight="normal" fill="#b0b0b0">4bp</text>
<text transform="translate(1941.67 2129.70) scale(0.3335 0.3188)" font-weight="normal" fill="#b0b0b0">0-2bp</text>
<text transform="translate(667.62 2242.40) scale(0.4815 0.5275)" font-weight="bold" fill="#ffffff" stroke="#ffffff" stroke-width="1.25" stroke-linejoin="round">V</text>
<text transform="translate(912.23 2242.00) scale(0.5241 0.5101)" font-weight="bold" fill="#ffffff" stroke="#ffffff" stroke-width="1.14" stroke-linejoin="round">N</text>
<text transform="translate(975.89 2242.00) scale(0.4612 0.5101)" font-weight="bold" fill="#ffffff" stroke="#ffffff" stroke-width="1.30" stroke-linejoin="round">(D)</text>
<text transform="translate(1067.81 2242.00) scale(0.5414 0.5101)" font-weight="bold" fill="#ffffff" stroke="#ffffff" stroke-width="1.11" stroke-linejoin="round">N</text>
<text transform="translate(1255.61 2242.00) scale(0.3957 0.5101)" font-weight="bold" fill="#ffffff" stroke="#ffffff" stroke-width="1.52" stroke-linejoin="round">J</text>
<text transform="translate(1467.33 2241.80) scale(0.4169 0.5159)" font-weight="bold" fill="#ffffff" stroke="#ffffff" stroke-width="1.44" stroke-linejoin="round">C</text>
<text transform="translate(1642.87 2237.90) scale(0.5047 0.5275)" font-weight="bold" fill="#ffffff" stroke="#ffffff" stroke-width="1.19" stroke-linejoin="round">UMI</text>
<text transform="translate(1838.47 2237.90) scale(0.4766 0.5275)" font-weight="bold" fill="#ffffff" stroke="#ffffff" stroke-width="1.26" stroke-linejoin="round">Ad</text>
<text transform="translate(1964.11 2237.90) scale(0.5414 0.5275)" font-weight="bold" fill="#ffffff" stroke="#ffffff" stroke-width="1.11" stroke-linejoin="round">N</text>
<text transform="translate(1413.83 2347.60) scale(0.3248 0.3333)" font-weight="bold" fill="#000000">50bp</text>
<text transform="translate(791.61 2399.90) scale(0.3305 0.3319)" font-weight="bold" fill="#000000">50bp</text>
<text transform="translate(2025.56 2351.40) scale(0.4206 0.5145)" font-weight="bold" fill="#000000">R</text>
<text transform="translate(295.01 2403.40) scale(0.4564 0.4913)" font-weight="bold" fill="#000000" stroke="#000000" stroke-width="3.07" stroke-linejoin="round">R2</text>
<text transform="translate(1667.22 2439.80) scale(0.2956 0.3261)" font-weight="normal" fill="#b0b0b0">3′</text>
<text transform="translate(1696.93 2439.80) scale(0.2868 0.3261)" font-weight="normal" fill="#b0b0b0">TGAGACGCAACTATGGT</text>
<text transform="translate(2039.55 2439.80) scale(0.3132 0.3261)" font-weight="normal" fill="#b0b0b0">5′</text>
<polygon points="343.40,942.70 349.20,942.70 349.20,976.50 343.10,976.50 343.10,946.36 336.10,950.80 335.70,947.14" fill="#000000"/>
<polygon points="1950.20,942.50 1956.00,942.50 1956.00,976.30 1949.90,976.30 1949.90,946.16 1942.90,950.60 1942.50,946.94" fill="#000000"/>
<polygon points="1357.10,940.80 1364.20,940.80 1364.20,976.40 1356.80,976.40 1356.80,944.87 1347.20,950.87 1346.80,946.80" fill="#000000"/>
<polygon points="1987.50,1752.00 1993.80,1752.00 1993.80,1786.80 1987.20,1786.80 1987.20,1755.96 1977.40,1762.08 1977.00,1758.12" fill="#ffffff"/>
<polygon points="2066.30,2317.20 2073.70,2317.20 2073.70,2351.40 2066.00,2351.40 2066.00,2321.43 2058.60,2326.11 2058.20,2321.88" fill="#000000"/>
<polygon points="613.80,1837.00 616.10,1837.00 616.10,1859.90 613.50,1859.90 613.50,1839.60 608.90,1842.60 608.50,1840.00" fill="#b0b0b0"/>
<polygon points="1570.40,1836.70 1572.40,1836.70 1572.40,1860.00 1570.10,1860.00 1570.10,1839.00 1565.30,1842.12 1564.90,1839.82" fill="#b0b0b0"/>
<polygon points="1716.60,1837.50 1718.70,1837.50 1718.70,1859.90 1716.30,1859.90 1716.30,1839.90 1711.90,1842.78 1711.50,1840.38" fill="#b0b0b0"/>
<polygon points="1661.10,2107.20 1663.50,2107.20 1663.50,2129.80 1660.80,2129.80 1660.80,2109.90 1657.20,2112.30 1656.80,2109.60" fill="#b0b0b0"/>
<polygon points="1402.30,2324.60 1406.40,2324.60 1406.40,2347.60 1402.00,2347.60 1402.00,2327.68 1397.60,2330.56 1397.20,2327.48" fill="#000000"/>
<polygon points="781.10,2377.00 785.50,2377.00 785.50,2399.90 780.80,2399.90 780.80,2380.29 776.80,2382.93 776.40,2379.64" fill="#000000"/>
</svg>
</body></html>
